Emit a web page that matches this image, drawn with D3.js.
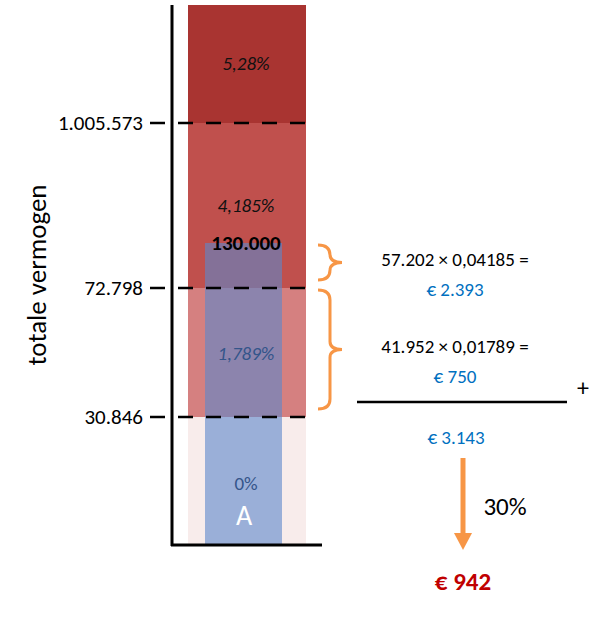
<!DOCTYPE html>
<html><head><meta charset="utf-8">
<script src="https://cdn.jsdelivr.net/npm/d3@7"></script>
<style>body{margin:0;background:#fff}text{font-family:Calibri,Carlito,"Liberation Sans",sans-serif}</style>
</head><body><svg id="c" width="616" height="620"></svg>
<script>
// bracket thresholds (totaal vermogen) and rates
var bounds = [0, 30846, 72798, 1005573, 2000000];
var rates = ['0%', '1,789%', '4,185%', '5,28%'];
var bandColors = ['#f8eceb', '#d58080', '#c0504d', '#a93431'];
var ticks = [30846, 72798, 1005573];
var wealth = 130000;
var calc = [
  {amount: '57.202', rate: '0,04185', result: '€ 2.393', lo: 72798, hi: wealth},
  {amount: '41.952', rate: '0,01789', result: '€ 750', lo: 30846, hi: 72798}
];
var total = '€ 3.143', taxPct = '30%', tax = '€ 942';

var fmt = function(v){ return d3.format(',')(v).replace(/,/g, '.'); };
var svg = d3.select('#c');
// schematic (non-linear) scale
var y = d3.scaleLinear().domain([0, 30846, 72798, wealth, 1005573, 2000000])
  .range([545, 417, 288, 243, 123, 5]);

var bands = d3.range(4).map(function(i){ return {lo: bounds[i], hi: bounds[i+1], rate: rates[i], color: bandColors[i]}; });
svg.selectAll('rect.band').data(bands).enter().append('rect')
  .attr('x', 188).attr('width', 118)
  .attr('y', function(d){ return y(d.hi); })
  .attr('height', function(d){ return y(d.lo) - y(d.hi); })
  .attr('fill', function(d){ return d.color; });

svg.append('rect').attr('x', 205).attr('width', 77)
  .attr('y', y(wealth)).attr('height', y(0) - y(wealth))
  .attr('fill', '#5b87cc').attr('opacity', 0.6);

svg.selectAll('line.tick').data(ticks).enter().append('line')
  .attr('x1', 150).attr('x2', 310)
  .attr('y1', function(d){ return y(d); }).attr('y2', function(d){ return y(d); })
  .attr('stroke', '#000').attr('stroke-width', 2.5).attr('stroke-dasharray', '15,13');
svg.selectAll('text.tick').data(ticks).enter().append('text')
  .attr('x', 143).attr('y', function(d){ return y(d) + 7; })
  .attr('text-anchor', 'end').attr('font-size', 21).text(fmt);

// axes
svg.append('line').attr('x1', 172).attr('x2', 172).attr('y1', 5).attr('y2', 546).attr('stroke', '#000').attr('stroke-width', 3);
svg.append('line').attr('x1', 171).attr('x2', 322).attr('y1', 545).attr('y2', 545).attr('stroke', '#000').attr('stroke-width', 3);
svg.append('text').attr('transform', 'translate(46,275) rotate(-90)')
  .attr('text-anchor', 'middle').attr('font-size', 27).text('totale vermogen');

// rate labels
var lblY = [483, 353, 205, 63];
svg.selectAll('text.rate').data(bands).enter().append('text')
  .attr('x', 246).attr('y', function(d, i){ return lblY[i] + 7; })
  .attr('text-anchor', 'middle').attr('font-size', 19)
  .attr('font-style', function(d, i){ return i ? 'italic' : null; })
  .attr('fill', function(d, i){ return i < 2 ? '#34558a' : '#111'; })
  .text(function(d){ return d.rate; });
svg.append('text').attr('x', 246).attr('y', 250).attr('text-anchor', 'middle')
  .attr('font-size', 21).attr('font-weight', 'bold').text(fmt(wealth));
svg.append('text').attr('x', 244).attr('y', 525).attr('text-anchor', 'middle')
  .attr('font-size', 28).attr('fill', '#fff').text('A');

// braces
calc.forEach(function(c, i){
  var t = y(c.hi) + 2, b = y(c.lo) - 8, m = (t + b) / 2, x0 = 318, x1 = 342;
  svg.append('path').attr('fill', 'none').attr('stroke', '#f79646').attr('stroke-width', 3)
    .attr('d', 'M' + x0 + ',' + t + ' Q' + (x0 + 12) + ',' + t + ' ' + (x0 + 12) + ',' + (t + 10) +
      ' L' + (x0 + 12) + ',' + (m - 8) + ' Q' + (x0 + 12) + ',' + m + ' ' + x1 + ',' + m +
      ' Q' + (x0 + 12) + ',' + m + ' ' + (x0 + 12) + ',' + (m + 8) +
      ' L' + (x0 + 12) + ',' + (b - 10) + ' Q' + (x0 + 12) + ',' + b + ' ' + x0 + ',' + b);
  var ty = i ? 353 : 266;
  svg.append('text').attr('x', 455).attr('y', ty).attr('text-anchor', 'middle').attr('font-size', 19)
    .text(c.amount + ' × ' + c.rate + ' =');
  svg.append('text').attr('x', 455).attr('y', ty + 30).attr('text-anchor', 'middle').attr('font-size', 19)
    .attr('fill', '#0070c0').text(c.result);
});
svg.append('line').attr('x1', 357).attr('x2', 567).attr('y1', 402).attr('y2', 402).attr('stroke', '#000').attr('stroke-width', 2.5);
svg.append('text').attr('x', 583).attr('y', 396).attr('text-anchor', 'middle').attr('font-size', 24).text('+');
svg.append('text').attr('x', 456).attr('y', 444).attr('text-anchor', 'middle').attr('font-size', 19)
  .attr('fill', '#0070c0').text(total);
svg.append('line').attr('x1', 463).attr('x2', 463).attr('y1', 458).attr('y2', 534).attr('stroke', '#f79646').attr('stroke-width', 5);
svg.append('path').attr('d', 'M454,533 L472,533 L463,550 Z').attr('fill', '#f79646');
svg.append('text').attr('x', 505).attr('y', 515).attr('text-anchor', 'middle').attr('font-size', 25).text(taxPct);
svg.append('text').attr('x', 463).attr('y', 590).attr('text-anchor', 'middle').attr('font-size', 25)
  .attr('font-weight', 'bold').attr('fill', '#c00000').text(tax);
</script></body></html>
